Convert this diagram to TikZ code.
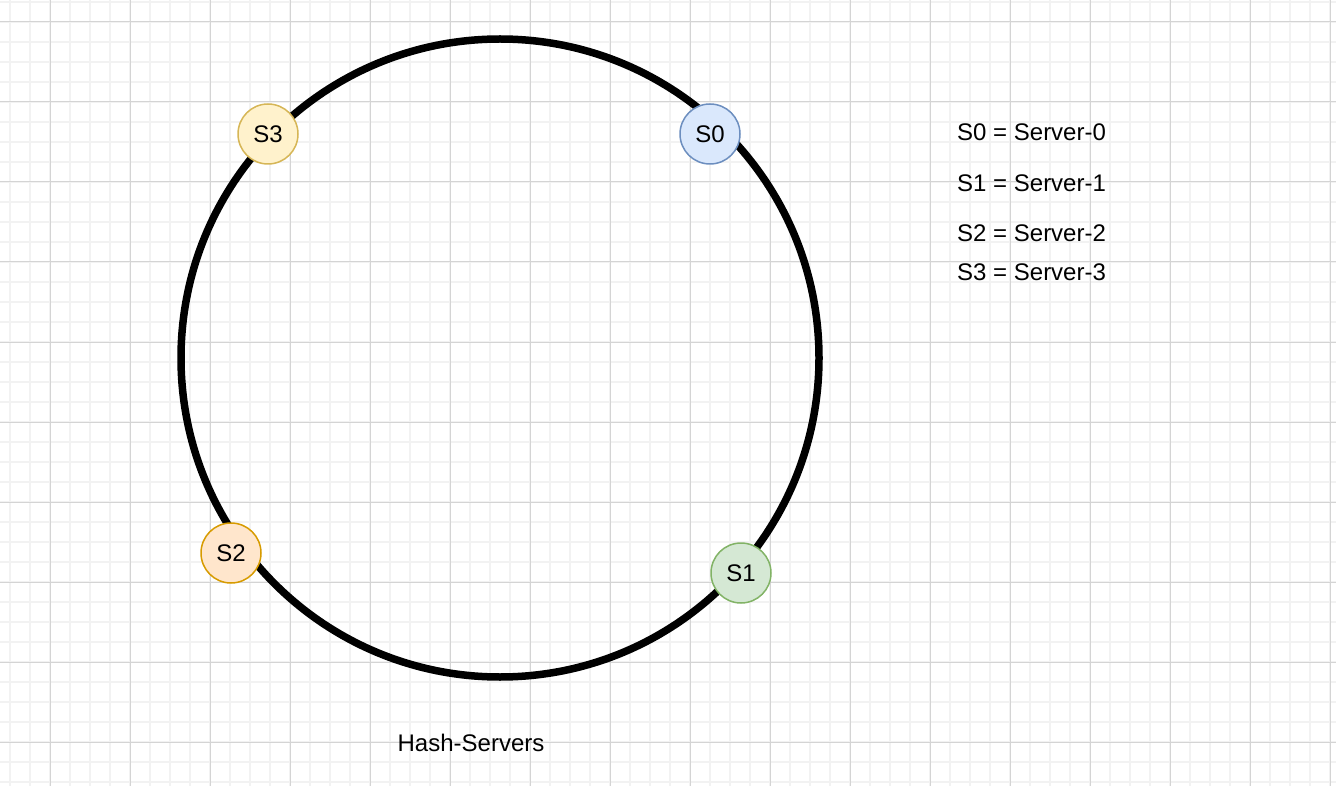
\documentclass[tikz,border=0pt]{standalone}
\usepackage{fontspec}
\setmainfont{Liberation Sans}
\definecolor{gridminor}{HTML}{F2F2F2}
\definecolor{gridmajor}{HTML}{D4D4D4}
\definecolor{blueFill}{HTML}{DAE8FC}
\definecolor{blueLine}{HTML}{6C8EBF}
\definecolor{greenFill}{HTML}{D5E8D4}
\definecolor{greenLine}{HTML}{82B366}
\definecolor{orangeFill}{HTML}{FFE6CC}
\definecolor{orangeLine}{HTML}{D79B00}
\definecolor{yellowFill}{HTML}{FFF2CC}
\definecolor{yellowLine}{HTML}{D6B656}
\tikzset{
	server/.style={circle, draw, line width=1.5, minimum size=60, inner sep=0, font=\fontsize{24}{28}\selectfont},
	legend/.style={anchor=west, inner sep=0, font=\fontsize{24}{28}\selectfont}
}
\begin{document}
\begin{tikzpicture}[x=1pt,y=-1pt]
		\useasboundingbox (0,0) rectangle (1336,786);
		\fill[white] (0,0) rectangle (1336,786);
		% grid
		\foreach \gx in {10,30,...,1336} \draw[gridminor, line width=1.5] (\gx,0) -- (\gx,786);
		\foreach \gy in {2,22,...,786} \draw[gridminor, line width=1.5] (0,\gy) -- (1336,\gy);
		\foreach \gx in {50,130,...,1336} \draw[gridmajor, line width=1] (\gx,0) -- (\gx,786);
		\foreach \gy in {22,102,...,786} \draw[gridmajor, line width=1] (0,\gy) -- (1336,\gy);
		% hash ring
		\node (ring) at (500,358) {};
		\draw[line width=7.5] (ring.center) circle (319);
		\node (s0) at (710,134) [server, fill=blueFill, draw=blueLine] {S0};
		\node (s1) at (741,573) [server, fill=greenFill, draw=greenLine] {S1};
		\node (s2) at (231,553) [server, fill=orangeFill, draw=orangeLine] {S2};
		\node (s3) at (268,134) [server, fill=yellowFill, draw=yellowLine] {S3};
		\node (title) at (471,743) [font=\fontsize{24}{28}\selectfont] {Hash-Servers};
		% legend
		\node (l0) at (957,132) [legend] {S0 = Server-0};
		\node (l1) at (957,183) [legend] {S1 = Server-1};
		\node (l2) at (957,233) [legend] {S2 = Server-2};
		\node (l3) at (957,272) [legend] {S3 = Server-3};
	\end{tikzpicture}
\end{document}
